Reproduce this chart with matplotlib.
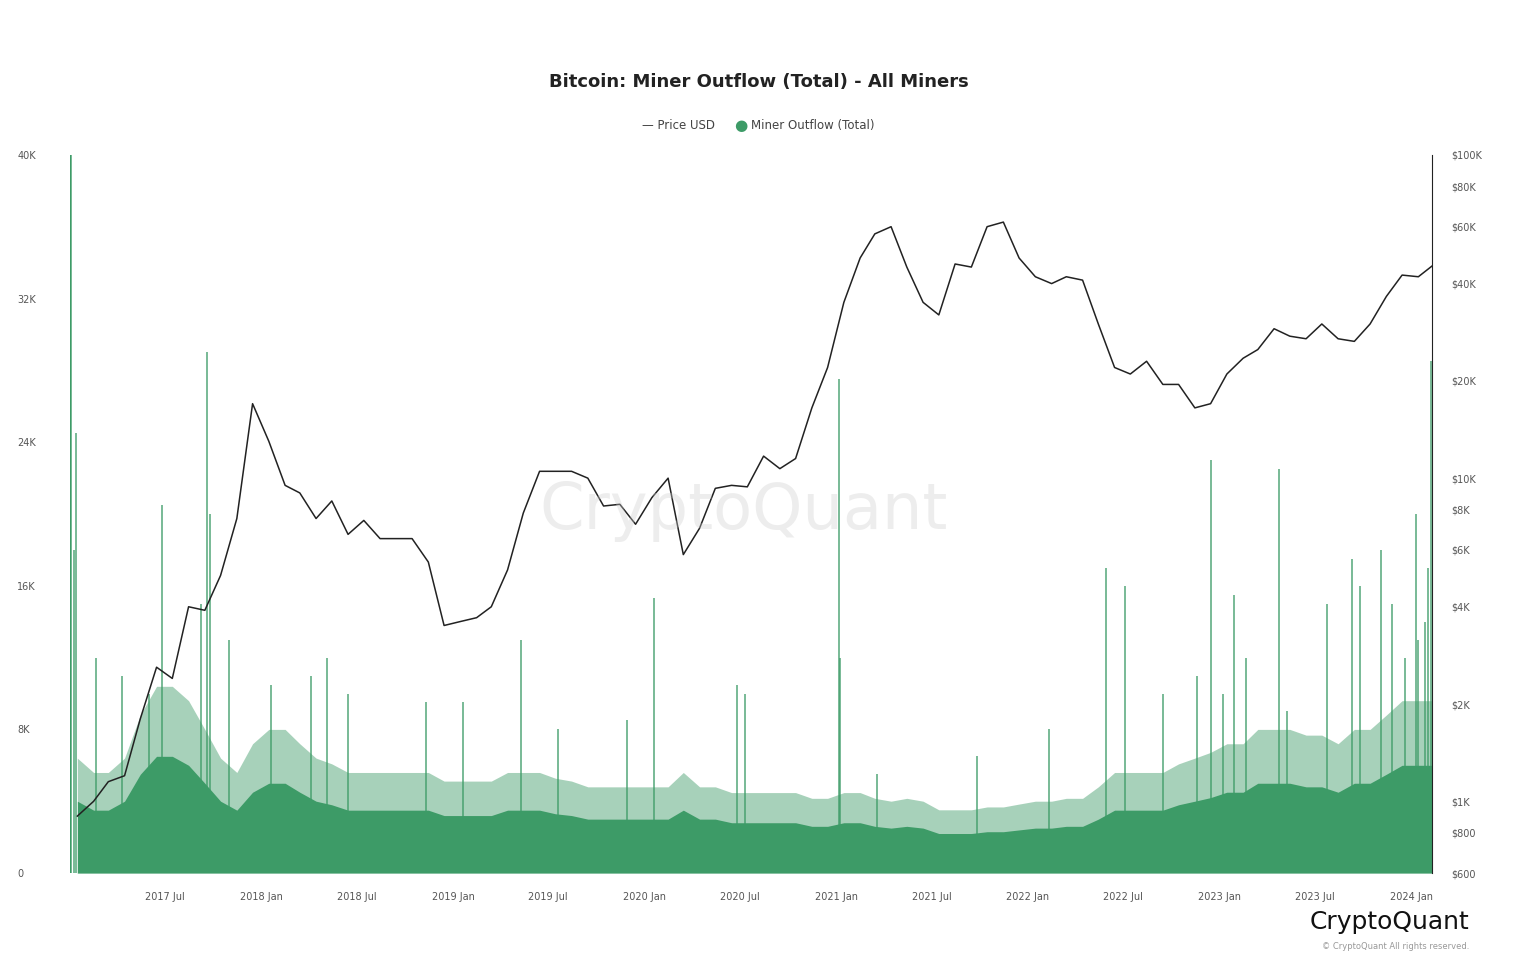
import matplotlib
matplotlib.use("Agg")
import matplotlib.pyplot as plt
import numpy as np
import pandas as pd
from matplotlib.ticker import FixedLocator, NullLocator

months = pd.date_range("2017-01-01", "2024-02-01", freq="MS") + pd.Timedelta(days=14)

price = [900,1000,1150,1200,1800,2600,2400,4000,3900,5000,7500,17000,
         13000,9500,9000,7500,8500,6700,7400,6500,6500,6500,5500,3500,
         3600,3700,4000,5200,7800,10500,10500,10500,10000,8200,8300,7200,
         8700,10000,5800,7000,9300,9500,9400,11700,10700,11500,16500,22000,
         35000,48000,57000,60000,45000,35000,32000,46000,45000,60000,62000,48000,
         42000,40000,42000,41000,30000,22000,21000,23000,19500,19500,16500,17000,
         21000,23500,25000,29000,27500,27000,30000,27000,26500,30000,36500,42500,
         42000,46000]

outflow_base = [4000,3500,3500,4000,5500,6500,6500,6000,5000,4000,3500,4500,
                5000,5000,4500,4000,3800,3500,3500,3500,3500,3500,3500,3200,
                3200,3200,3200,3500,3500,3500,3300,3200,3000,3000,3000,3000,
                3000,3000,3500,3000,3000,2800,2800,2800,2800,2800,2600,2600,
                2800,2800,2600,2500,2600,2500,2200,2200,2200,2300,2300,2400,
                2500,2500,2600,2600,3000,3500,3500,3500,3500,3800,4000,4200,
                4500,4500,5000,5000,5000,4800,4800,4500,5000,5000,5500,6000,
                6000,6000]
outflow_high = [b*1.6 for b in outflow_base]

spike_dates = ["2017-01-03","2017-01-12","2017-01-08","2017-02-20","2017-04-10","2017-06-01",
               "2017-06-25","2017-09-20","2017-09-25","2017-09-08","2017-11-01","2018-01-20",
               "2018-04-05","2018-05-05","2018-06-15","2018-11-10","2019-01-20","2019-05-10",
               "2019-07-20","2019-11-28","2020-01-20","2020-06-25","2020-07-10","2021-01-05",
               "2021-01-08","2021-03-20","2021-09-25","2022-02-10","2022-05-30","2022-07-05",
               "2022-09-15","2022-11-20","2022-12-15","2023-01-08","2023-01-28","2023-02-20",
               "2023-04-25","2023-05-10","2023-07-25","2023-09-10","2023-09-25","2023-11-05",
               "2023-11-25","2023-12-20","2024-01-15","2024-01-28","2024-01-10","2024-02-02",
               "2024-02-08"]
spike_vals = [40000,24500,18000,12000,11000,10000,20500,29000,20000,15000,13000,10500,
              11000,12000,10000,9500,9500,13000,8000,8500,15300,10500,10000,27500,
              12000,5500,6500,8000,17000,16000,10000,11000,23000,10000,15500,12000,
              22500,9000,15000,17500,16000,18000,15000,12000,13000,14000,20000,17000,
              28500]

green = "#3d9b67"
plt.rcParams['font.family'] = ['DejaVu Sans']
fig = plt.figure(figsize=(15.18, 9.8), dpi=100)
ax = fig.add_axes([70/1518, 107/980, 1362/1518, 718/980])
ax2 = ax.twinx()

ax.fill_between(months, outflow_high, color=green, alpha=0.45, lw=0)
ax.fill_between(months, outflow_base, color=green, lw=0)
ax.vlines(pd.to_datetime(spike_dates), 0, spike_vals, color=green, lw=1.3, alpha=0.75)

ax2.plot(months, price, color="#222222", lw=1.1)
ax2.set_yscale("log")
ax2.set_ylim(600, 100000)
rt = [600,800,1000,2000,4000,6000,8000,10000,20000,40000,60000,80000,100000]
ax2.yaxis.set_major_locator(FixedLocator(rt))
ax2.yaxis.set_minor_locator(NullLocator())
ax2.set_yticklabels(["$600","$800","$1K","$2K","$4K","$6K","$8K","$10K","$20K","$40K","$60K","$80K","$100K"])

ax.set_ylim(0, 40000)
ax.set_yticks([0,8000,16000,24000,32000,40000])
ax.set_yticklabels(["0","8K","16K","24K","32K","40K"])
ax.set_xlim(pd.Timestamp("2017-01-01"), pd.Timestamp("2024-02-10"))
xt = pd.to_datetime(["2017-07-01","2018-01-01","2018-07-01","2019-01-01","2019-07-01","2020-01-01",
                     "2020-07-01","2021-01-01","2021-07-01","2022-01-01","2022-07-01","2023-01-01",
                     "2023-07-01","2024-01-01"])
ax.set_xticks(xt)
ax.set_xticklabels([d.strftime("%Y %b") for d in xt])

for a in (ax, ax2):
    for s in a.spines.values():
        s.set_visible(False)
    a.tick_params(length=0, labelsize=7, colors="#555555")
for lab in ax.get_yticklabels():
    lab.set_horizontalalignment("left")
ax.tick_params(axis="y", pad=38)
ax.tick_params(axis="x", pad=14)
ax2.tick_params(axis="y", pad=14)
ax.axvline(pd.Timestamp("2017-01-01"), color=green, lw=1.5)
ax2.spines["right"].set_visible(True); ax2.spines["right"].set_color("#222222")

fig.text(0.5, 0.911, "Bitcoin: Miner Outflow (Total) - All Miners", ha="center", fontsize=13, fontweight="bold", color="#222222")
fig.text(0.471, 0.872, "— Price USD", ha="right", fontsize=8.5, color="#444444", va="center")
fig.text(0.488, 0.872, "●", ha="center", fontsize=11, color=green, va="center")
fig.text(0.495, 0.872, "Miner Outflow (Total)", ha="left", fontsize=8.5, color="#444444", va="center")
fig.text(0.49, 0.46, "CryptoQuant", ha="center", fontsize=46, color="#cccccc", alpha=0.35)
fig.text(0.968, 0.052, "CryptoQuant", ha="right", fontsize=18, color="#111111")
fig.text(0.968, 0.032, "© CryptoQuant All rights reserved.", ha="right", fontsize=6, color="#999999")
fig.savefig("out.png", dpi=100, facecolor="white")
